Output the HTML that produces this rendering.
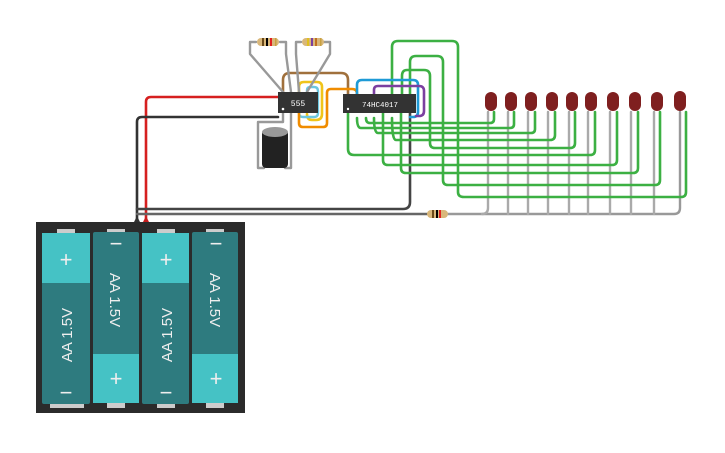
<!DOCTYPE html>
<html><head><style>html,body{margin:0;padding:0;background:#fff;width:725px;height:453px;overflow:hidden}</style></head>
<body>
<svg width="725" height="453" viewBox="0 0 725 453" xmlns="http://www.w3.org/2000/svg" font-family="Liberation Sans, sans-serif">
<g fill="none" stroke-linejoin="round" stroke-linecap="round">
<path d="M278,97 H151 Q146,97 146,102 V222" stroke="#d62020" stroke-width="2.6"/>
<path d="M278,117 H142 Q137,117 137,122 V222" stroke="#333" stroke-width="2.6"/>
<path d="M410,113 V202 Q410,209 403,209 H137" stroke="#444" stroke-width="2.6"/>
<path d="M137,214 H427" stroke="#666" stroke-width="2.4"/>
<path d="M448,214 H674 Q680,214 680,208 V112" stroke="#999" stroke-width="2.4"/>
<g stroke="#aaa" stroke-width="2.4">
<path d="M488,112 V208 Q488,214 482,214"/><path d="M508,112 V214"/><path d="M528,112 V214"/><path d="M548,112 V214"/><path d="M569,112 V214"/><path d="M588,112 V214"/><path d="M610,112 V214"/><path d="M631,112 V214"/><path d="M654,112 V214"/>
</g>
<g stroke="#3cb043" stroke-width="2.6">
<path d="M494,112 V119 Q494,123 490,123 H370 Q366,123 366,118"/>
<path d="M514,112 V124 Q514,128 510,128 H361 Q357,128 357,118"/>
<path d="M535,112 V129 Q535,133 531,133 H378 Q374,133 374,118"/>
<path d="M555,112 V135 Q555,140 550,140 H396 Q392,140 392,118"/>
<path d="M575,112 V143 Q575,148 570,148 H435 Q430,148 430,143 V76 Q430,70 424,70 H407 Q402,70 402,76 V94"/>
<path d="M595,112 V150 Q595,155 590,155 H354 Q348,155 348,149 V113"/>
<path d="M617,112 V160 Q617,165 612,165 H388 Q383,165 383,160 V113"/>
<path d="M638,112 V168 Q638,173 633,173 H406 Q401,173 401,168 V113"/>
<path d="M660,112 V180 Q660,185 655,185 H448 Q443,185 443,180 V62 Q443,56 437,56 H416 Q410,56 410,62 V94"/>
<path d="M686,112 V192 Q686,197 681,197 H464 Q458,197 458,192 V47 Q458,41 452,41 H398 Q392,41 392,47 V94"/>
</g>
<path d="M283,92 V80 Q283,73 290,73 H341 Q348,73 348,80 V94" stroke="#a0703c" stroke-width="2.6"/>
<path d="M299,92 V87 Q299,82 304,82 H317 Q322,82 322,87 V114 Q322,120 316,120 H312 Q307,120 307,114" stroke="#f0c419" stroke-width="2.6"/>
<path d="M307,92 V90 Q307,87 311,87 H314 Q318,87 318,91 V113 Q318,117 314,117 H303 Q299,117 299,113" stroke="#6cc7e0" stroke-width="2.4"/>
<path d="M299,113 V123 Q299,127 303,127 H323 Q327,127 327,123 V93 Q327,89 331,89 H352 Q357,89 357,94" stroke="#f08c00" stroke-width="2.6"/>
<path d="M357,94 V85 Q357,80 362,80 H413 Q418,80 418,85 V112 Q418,117 413,117 H410" stroke="#1e9ad6" stroke-width="2.6"/>
<path d="M374,94 V90 Q374,86 378,86 H419 Q424,86 424,91 V111 Q424,116 419,116 H416" stroke="#7b3fa0" stroke-width="2.6"/>
<g stroke="#999" stroke-width="2.4">
<path d="M256,42 H250 V54 L283,92"/><path d="M280,42 H286 V54 L291,92"/>
<path d="M301,42 H296 V54 L299,92"/><path d="M324,42 H330 V54 L307,92"/>
<path d="M283,113 V122 H258 V168 H264"/><path d="M291,113 V168 H285"/>
</g>
</g>
<g>
<rect x="257" y="38" width="22" height="8" rx="4" fill="#d9b77a"/>
<rect x="262" y="38" width="2" height="8" fill="#6b4a1a"/><rect x="266" y="38" width="2" height="8" fill="#000"/><rect x="270" y="38" width="2" height="8" fill="#e02020"/><rect x="275" y="38" width="1.5" height="8" fill="#c8a040"/>
<rect x="302" y="38" width="22" height="8" rx="4" fill="#d9b77a"/>
<rect x="307" y="38" width="2" height="8" fill="#e0c020"/><rect x="311" y="38" width="2" height="8" fill="#7b3fa0"/><rect x="315" y="38" width="2" height="8" fill="#c07020"/><rect x="320" y="38" width="1.5" height="8" fill="#c8a040"/>
<rect x="427" y="210" width="21" height="8" rx="4" fill="#d9b77a"/>
<rect x="432" y="210" width="2" height="8" fill="#6b4a1a"/><rect x="436" y="210" width="2" height="8" fill="#000"/><rect x="439" y="210" width="2" height="8" fill="#e02020"/>
</g>
<rect x="262" y="130" width="26" height="38" rx="4" fill="#222"/>
<ellipse cx="275" cy="132" rx="13" ry="5" fill="#999"/>
<rect x="278" y="92" width="40" height="21" fill="#333"/>
<text x="298" y="106" font-size="8" fill="#fff" text-anchor="middle" font-family="Liberation Mono, monospace">555</text>
<circle cx="283" cy="109" r="1.3" fill="#fff"/>
<rect x="343" y="94" width="73" height="19" fill="#333"/>
<text x="380" y="107" font-size="7.5" fill="#fff" text-anchor="middle" font-family="Liberation Mono, monospace">74HC4017</text>
<circle cx="348" cy="109" r="1.2" fill="#fff"/>
<g fill="#7f1f1f">
<rect x="485" y="92" width="12" height="19" rx="6"/><rect x="505" y="92" width="12" height="19" rx="6"/><rect x="525" y="92" width="12" height="19" rx="6"/><rect x="546" y="92" width="12" height="19" rx="6"/><rect x="566" y="92" width="12" height="19" rx="6"/><rect x="585" y="92" width="12" height="19" rx="6"/><rect x="607" y="92" width="12" height="19" rx="6"/><rect x="629" y="92" width="12" height="19" rx="6"/><rect x="651" y="92" width="12" height="19" rx="6"/><rect x="674" y="91" width="12" height="20" rx="6"/>
</g>
<rect x="36" y="222" width="209" height="191" fill="#2b2b2b"/>
<g fill="#ccc">
<rect x="57" y="229" width="18" height="5"/><rect x="107" y="229" width="18" height="5"/><rect x="157" y="229" width="18" height="5"/><rect x="206" y="229" width="18" height="5"/>
<rect x="50" y="403" width="34" height="5"/><rect x="107" y="403" width="18" height="5"/><rect x="157" y="403" width="18" height="5"/><rect x="206" y="403" width="18" height="5"/>
</g>
<g>
<rect x="42" y="233" width="48" height="171" rx="2" fill="#2e7b7f"/><rect x="42" y="233" width="48" height="50" fill="#45c2c5"/>
<rect x="93" y="232" width="46" height="171" rx="2" fill="#2e7b7f"/><rect x="93" y="354" width="46" height="49" fill="#45c2c5"/>
<rect x="142" y="233" width="47" height="171" rx="2" fill="#2e7b7f"/><rect x="142" y="233" width="47" height="50" fill="#45c2c5"/>
<rect x="192" y="232" width="46" height="171" rx="2" fill="#2e7b7f"/><rect x="192" y="354" width="46" height="49" fill="#45c2c5"/>
</g>
<g fill="#eee" font-size="22" text-anchor="middle">
<text x="66" y="267">+</text><text x="116" y="386">+</text><text x="166" y="267">+</text><text x="216" y="386">+</text>
<text x="66" y="400">−</text><text x="116" y="251">−</text><text x="166" y="400">−</text><text x="216" y="251">−</text>
</g>
<g fill="#eee" font-size="15">
<text transform="translate(72,335) rotate(-90)" text-anchor="middle">AA 1.5V</text>
<text transform="translate(110,300) rotate(90)" text-anchor="middle">AA 1.5V</text>
<text transform="translate(172,335) rotate(-90)" text-anchor="middle">AA 1.5V</text>
<text transform="translate(210,300) rotate(90)" text-anchor="middle">AA 1.5V</text>
</g>
<path d="M137,216 L134,222 H140 Z" fill="#333"/><path d="M146,216 L143,222 H149 Z" fill="#c81e1e"/>
</svg>
</body></html>
